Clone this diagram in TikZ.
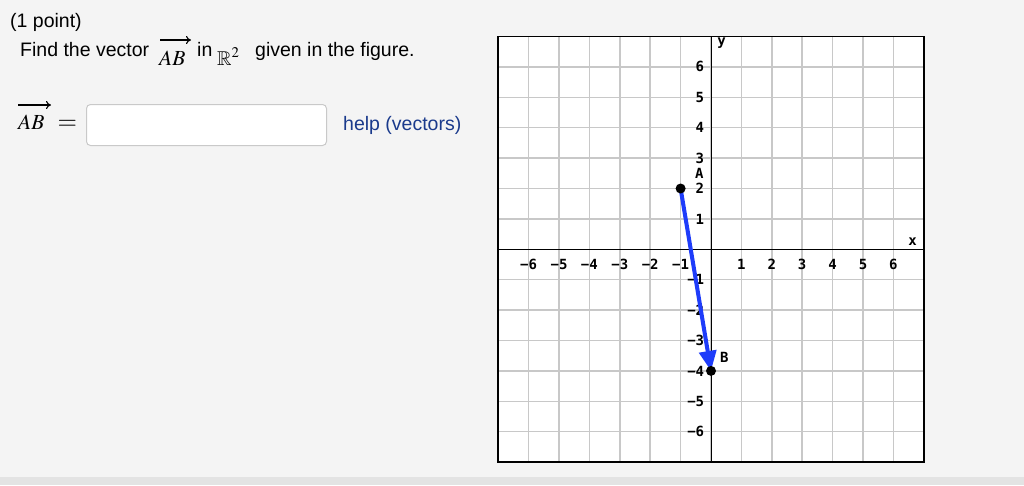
\documentclass[tikz,border=0pt]{standalone}
\usepackage{amssymb}
\usepackage{mathptmx}
\usepackage{fontspec}
\setmainfont{Liberation Sans}
\newfontfamily\gridfont{DejaVu Sans Mono}
\usepackage{tikz}
\usetikzlibrary{arrows.meta}
\definecolor{pagegray}{HTML}{F4F4F4}
\definecolor{stripgray}{HTML}{E3E3E3}
\definecolor{boxline}{HTML}{C9C9C9}
\definecolor{helpblue}{RGB}{26,58,140}
\definecolor{gridgray}{HTML}{C8C8C8}
\definecolor{vecblue}{RGB}{30,60,250}

\begin{document}
\begin{tikzpicture}[x=1pt, y=-1pt]
			\tikzstyle{txt}=[anchor=base west, inner sep=0pt, font=\fontsize{19.5}{22}\selectfont]
			\tikzstyle{mth}=[anchor=base west, inner sep=0pt, font=\fontsize{21.5}{26}\selectfont]
			\tikzstyle{ovarrow}=[line width=1.1pt, -{To[length=5pt, width=8pt]}]
			\tikzstyle{ticklbl}=[inner sep=0pt, font=\gridfont\bfseries\fontsize{14}{14}\selectfont]
			\tikzstyle{dot}=[circle, fill=black, inner sep=0pt, minimum size=10pt]
			\tikzstyle{vec}=[vecblue, line width=4pt, -{Triangle[length=20pt, width=17pt]}]
			
			\useasboundingbox (0,0) rectangle (1024,485);
			\fill[pagegray] (0,0) rectangle (1024,485);
			\fill[stripgray] (0,477) rectangle (1024,485);
			
			% question text
			\node (pts) [txt] at (10,27) {(1 point)};
			\node (find) [txt] at (20,56) {Find the vector};
			\node (ab1) [mth] at (159,65) {$AB$};
			\draw [ovarrow] (160,40) -- (191,40);
			\node (inword) [txt] at (197,56) {in};
			\node (rtwo) [mth, font=\fontsize{20}{24}\selectfont] at (217,65) {$\mathbb{R}^2$};
			\node (given) [txt] at (255,56) {given in the figure.};
			
			\node (ab2) [mth] at (18,129.5) {$AB$};
			\draw [ovarrow] (18,105) -- (51,105);
			\node (eq) [mth, font=\fontsize{25}{28}\selectfont] at (57.5,129.5) {$=$};
			\node (ansbox) [draw=boxline, fill=white, rounded corners=4pt, line width=1pt, minimum width=240pt, minimum height=41pt, anchor=north west, inner sep=0pt] at (86,104) {};
			\node (help) [txt, text=helpblue] at (343,130) {help (vectors)};
			
			% the plane
			\begin{scope}[shift={(711pt,-249.3pt)}, x=30.4pt, y=30.4pt]
			\fill[white] (-7,-7) rectangle (7,7);
			\foreach \k in {-6,...,6} {
				\draw[gridgray, line width=1.5pt] (\k,-7) -- (\k,7);
				\draw[gridgray, line width=1.5pt] (-7,\k) -- (7,\k);
			}
			\draw[line width=0.8pt] (-7,0) -- (7,0);
			\draw[line width=0.8pt] (0,-7) -- (0,7);
			\draw[line width=1.5pt] (-7,-7) rectangle (7,7);
			
			\foreach \i in {1,...,6} {
				\node (xt\i) [ticklbl] at (\i,-0.5) {\i};
				\node (xtm\i) [ticklbl] at (-\i,-0.5) {−\i};
				\node (yt\i) [ticklbl, anchor=east] at (-0.22,\i) {\i};
				\node (ytm\i) [ticklbl, anchor=east] at (-0.22,-\i) {−\i};
			}
			
			\node (xlab) [ticklbl] at (6.63,0.24) {x};
			\node (ylab) [ticklbl] at (0.35,6.79) {y};
			
			\coordinate (A) at (-1,2);
			\coordinate (B) at (0,-4);
			\draw [vec] (A) -- (B);
			\node (dotA) [dot] at (A) {};
			\node (dotB) [dot] at (B) {};
			\node (labA) [ticklbl] at (-0.38,2.51) {A};
			\node (labB) [ticklbl] at (0.44,-3.54) {B};
			\end{scope}
\end{tikzpicture}
\end{document}
